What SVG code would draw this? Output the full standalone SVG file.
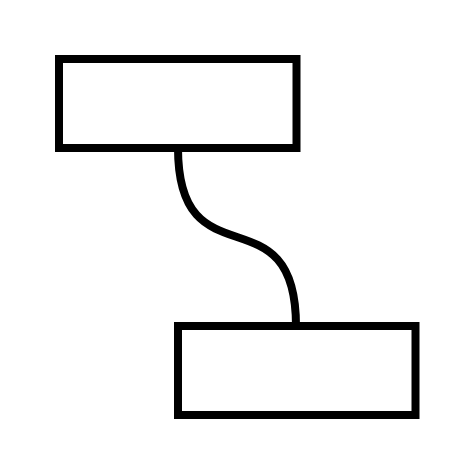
<svg xmlns="http://www.w3.org/2000/svg" width="474" height="474" viewBox="0 0 474 474">
<style>
.box{fill:#fff;stroke:#000;stroke-width:8}
.conn{fill:none;stroke:#000;stroke-width:8}
</style>
<rect width="474" height="474" fill="#fff"/>
<g id="connectors">
<path class="conn" d="M178,148 C178,286 296,188 296,326"/>
</g>
<g id="node-top"><rect class="box" x="59" y="59" width="237.5" height="89"/></g>
<g id="node-bottom"><rect class="box" x="178" y="326" width="237.5" height="89"/></g>
</svg>
